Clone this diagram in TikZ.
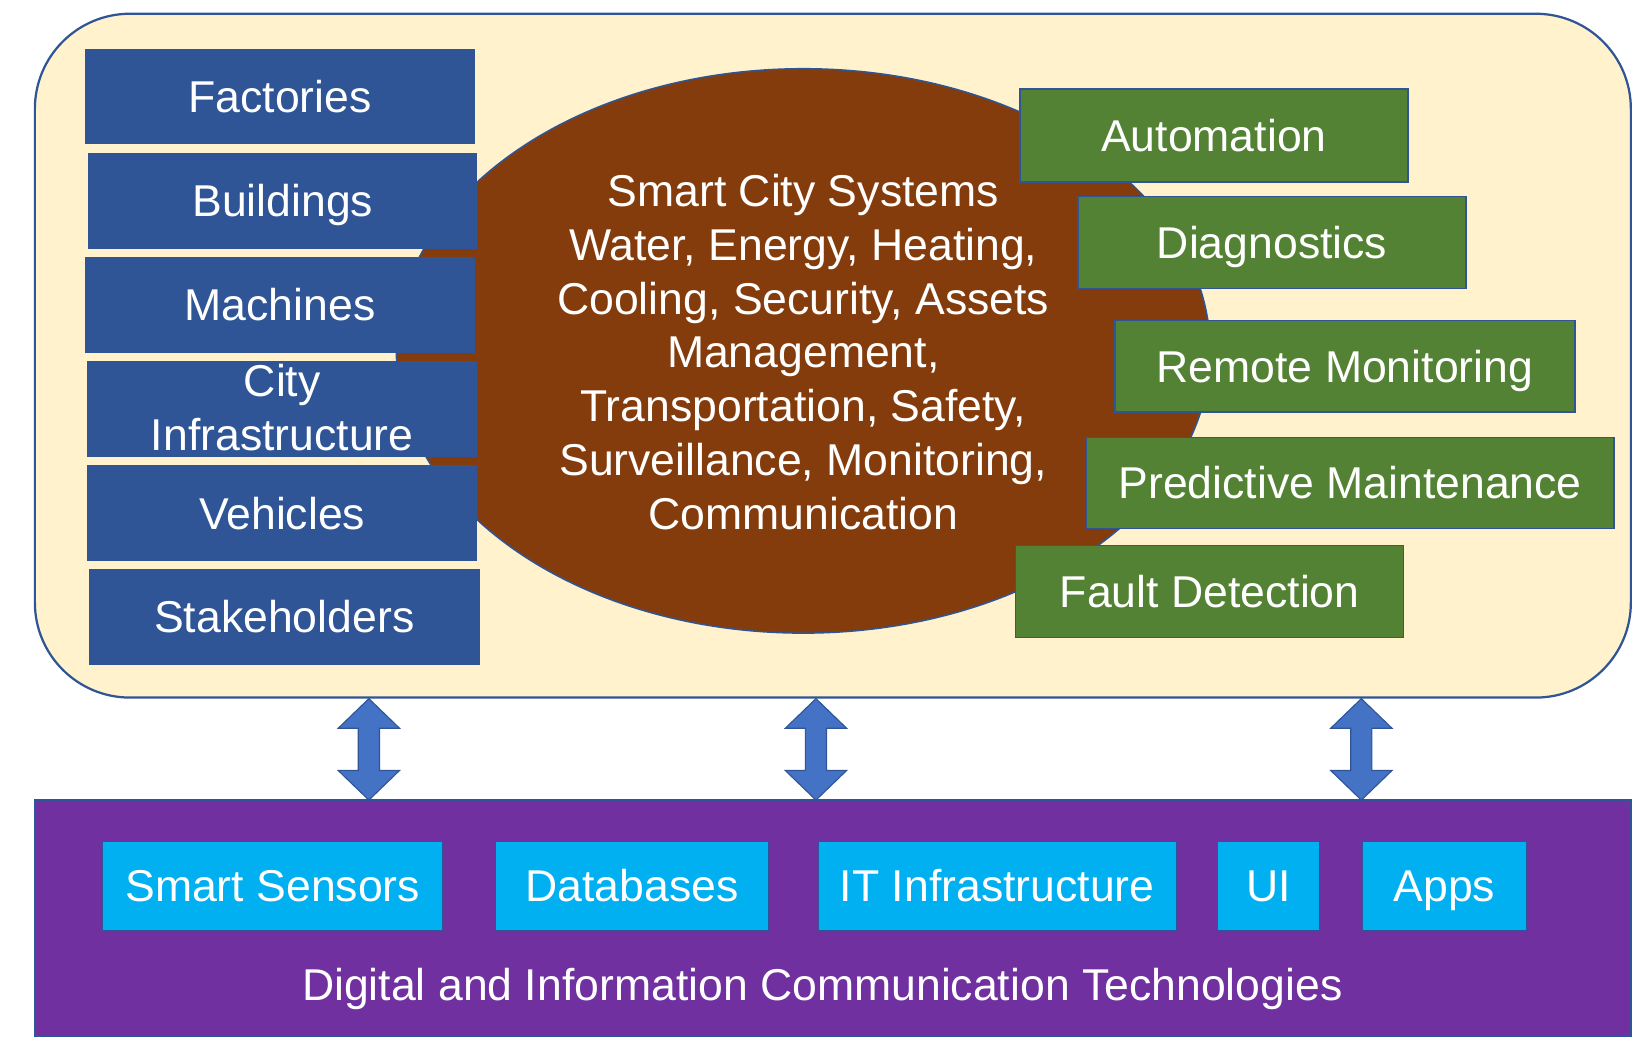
\documentclass[tikz,border=0pt]{standalone}
\usepackage{fontspec}
\setmainfont{Liberation Sans}
\definecolor{cream}{HTML}{FFF2CC}
\definecolor{dblue}{HTML}{2F5597}
\definecolor{brown}{HTML}{843C0C}
\definecolor{dgreen}{HTML}{548235}
\definecolor{arrb}{HTML}{4472C4}
\definecolor{purp}{HTML}{7030A0}
\definecolor{cyanb}{HTML}{00B0F0}
\begin{document}
\begin{tikzpicture}[x=0.02cm,y=-0.02cm,
  txt/.style={text=white,font=\fontsize{24}{29}\selectfont,align=center},
  one/.style={txt,anchor=base},
  bbox/.style={fill=dblue,draw=dblue,line width=0.8pt},
  gbox/.style={fill=dgreen,draw=dblue,line width=0.8pt},
  cbox/.style={fill=cyanb,draw=dblue,line width=0.5pt},
  darr/.style={fill=arrb,draw=dblue,line width=0.6pt,line join=miter}]
\useasboundingbox (0,0) rectangle (1563,990);
\draw[fill=cream,draw=dblue,line width=1.2pt,rounded corners=1.8cm] (33,13) rectangle (1543,660);
\draw[fill=brown,draw=dblue,line width=0.8pt] (760,332) ellipse [x radius=385,y radius=267];
\node[txt] (sys) at (760,333) {Smart City Systems\\Water, Energy, Heating,\\Cooling, Security, Assets\\Management,\\Transportation, Safety,\\Surveillance, Monitoring,\\Communication};
% blue boxes
\foreach \n/\a/\b/\c/\d/\t in {f/81/47/449/136/Factories,b/84/145/451/235/Buildings,m/81/244/449/333/Machines,v/83/441/451/530/Vehicles,s/85/539/453/628/Stakeholders}{
  \draw[bbox] (\a,\b) rectangle (\c,\d);
  \node[one] (\n) at ({(\a+\c)/2},{(\b+\d)/2+15}) {\t};
}
\draw[bbox] (83,342) rectangle (451,432);
\node[txt] (ci) at (267,386) {City\\Infrastructure};
% green boxes
\foreach \n/\a/\b/\c/\d/\t in {au/965/84/1332/172/Automation,di/1020/186/1387/273/Diagnostics,rm/1055/303/1490/390/Remote Monitoring,pm/1028/414/1527/500/Predictive Maintenance,fd/961/516/1328/603/Fault Detection}{
  \draw[gbox] (\a,\b) rectangle (\c,\d);
  \node[one] (\n) at ({(\a+\c)/2},{(\b+\d)/2+15}) {\t};
}
% arrows
\foreach \n/\x in {a1/349,a2/772,a3/1288}{
  \coordinate (\n) at (\x,709);
  \draw[darr] (\x,661) -- ++(29,28) -- ++(-19,0) -- ++(0,40) -- ++(19,0) -- (\x,757) -- ++(-29,-28) -- ++(19,0) -- ++(0,-40) -- ++(-19,0) -- cycle;
}
% bottom
\draw[fill=purp,draw=dblue,line width=0.8pt] (33,757) rectangle (1543,980);
\foreach \n/\a/\c/\t in {ss/97/419/Smart Sensors,db/469/727/Databases,it/774/1113/IT Infrastructure,ui/1152/1248/UI,ap/1289/1444/Apps}{
  \draw[cbox] (\a,796) rectangle (\c,880);
  \node[one] (\n) at ({(\a+\c)/2},853) {\t};
}
\node[one] (dict) at (778,947) {Digital and Information Communication Technologies};
\end{tikzpicture}
\end{document}
